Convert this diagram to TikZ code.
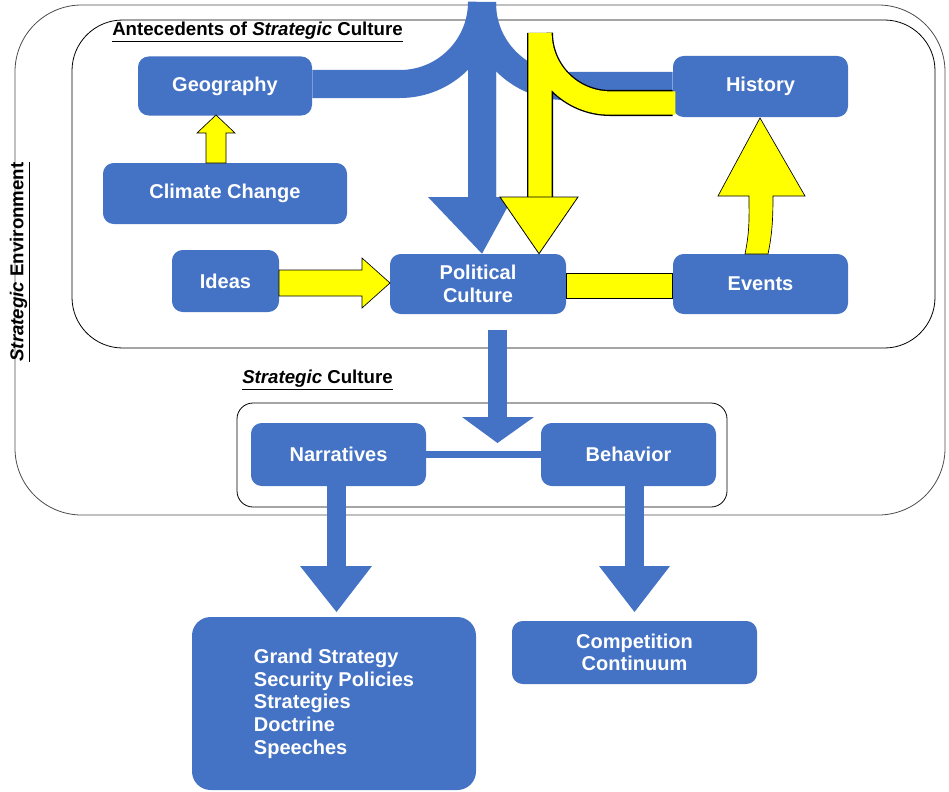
\documentclass[tikz,border=0pt]{standalone}
\usepackage{fontspec}
\setmainfont{Liberation Sans}
\begin{document}
\begin{tikzpicture}[x=0.75pt,y=-0.75pt,
  box/.style={fill=boxblue,rounded corners=8pt,text=white,font=\fontsize{15}{17}\selectfont\bfseries,align=center,inner sep=0pt},
  frame/.style={draw=black,line width=0.6pt},
  title/.style={font=\fontsize{14}{16}\selectfont\bfseries,inner sep=0pt}]
\definecolor{boxblue}{HTML}{4472C4}
\definecolor{yel}{HTML}{FFFF00}
\useasboundingbox (0,0) rectangle (949,792);
% frames
\draw[frame,draw=black!70,rounded corners=50pt] (15,5) rectangle (945,515);
\draw[frame,rounded corners=38pt] (72,20) rectangle (935,348);
\draw[frame,rounded corners=12pt] (237,403) rectangle (727,507);
% titles
\node[title,anchor=west] (t1) at (112,32) {\underline{Antecedents of \emph{Strategic} Culture}};
\node[title,anchor=west] (t2) at (242,380) {\underline{\emph{Strategic} Culture}};
\node[title,rotate=90] (t3) at (20,262) {\underline{\emph{Strategic} Environment}};
% boxes
\node[box,minimum width=174*0.75pt,minimum height=59*0.75pt] (geo) at (225,86) {Geography};
\node[box,minimum width=175*0.75pt,minimum height=61*0.75pt] (his) at (760.5,86.5) {History};
\node[box,minimum width=244*0.75pt,minimum height=61*0.75pt] (cli) at (225,193.5) {Climate Change};
\node[box,minimum width=107*0.75pt,minimum height=62*0.75pt] (ide) at (225.5,281) {Ideas};
\node[box,minimum width=176*0.75pt,minimum height=60*0.75pt] (pol) at (478,284) {Political\\Culture};
\node[box,minimum width=175*0.75pt,minimum height=60*0.75pt] (eve) at (760.5,284) {Events};
\node[box,minimum width=175*0.75pt,minimum height=63*0.75pt] (nar) at (338.5,454.5) {Narratives};
\node[box,minimum width=175*0.75pt,minimum height=63*0.75pt] (beh) at (628.5,454.5) {Behavior};
\node[box,minimum width=284*0.75pt,minimum height=173*0.75pt,rounded corners=14pt,align=left] (gra) at (334,703.5) {Grand Strategy\\Security Policies\\Strategies\\Doctrine\\Speeches};
\node[box,minimum width=245*0.75pt,minimum height=63*0.75pt] (com) at (634.5,652.5) {Competition\\Continuum};
% blue curved arrows into Political Culture
\draw[boxblue,line width=21pt] (geo.east|-0,84) -- (400,84) arc[start angle=90,end angle=0,radius=82] -- (482,199);
\draw[boxblue,line width=21pt] (his.west|-0,86) -- (565,86) arc[start angle=90,end angle=180,radius=83] -- (482,199);
\fill[boxblue] (428,197) -- (513,197) -- (pol.north-|482,0) -- cycle;
% yellow History -> Political Culture
\draw[black,line width=19.5pt] (his.west|-0,103) -- (610,103) arc[start angle=90,end angle=180,radius=70] -- (540,199);
\draw[yel,line width=17.5pt] ([xshift=2pt]his.west|-0,103) -- (610,103) arc[start angle=90,end angle=180,radius=70] -- (540,198);
\filldraw[fill=yel,draw=black,line width=0.6pt] (500,197) -- (578,197) -- (pol.north-|539,0) -- cycle;
% yellow Political -> Events
\draw[black,fill=yel,line width=0.5pt] (pol.east|-0,273) rectangle (eve.west|-0,298);
% yellow Events -> History
\filldraw[fill=yel,draw=black,line width=0.5pt] (745,254) .. controls (750,230) and (749,215) .. (749,196) -- (718,196) -- (760,118) -- (805,196) -- (773,196) .. controls (773,220) and (772,235) .. (768,254) -- cycle;
% yellow Climate -> Geography
\filldraw[fill=yel,draw=black,line width=0.5pt] (206,163) -- (206,133) -- (197,133) -- (216,115) -- (235,133) -- (226,133) -- (226,163) -- cycle;
% yellow Ideas -> Political
\filldraw[fill=yel,draw=black,line width=0.5pt] (279,270) -- (362,270) -- (362,258) -- (390,283) -- (362,308) -- (362,296) -- (279,296) -- cycle;
% Political -> Strategic Culture
\fill[boxblue] (488,330) rectangle (507,418);
\fill[boxblue] (462,417) -- (534,417) -- (497.5,443) -- cycle;
% Narratives - Behavior
\draw[boxblue,line width=5pt] (nar.east) -- (beh.west);
% down arrows
\fill[boxblue] (327,486) rectangle (346,567);
\fill[boxblue] (300,566) -- (372,566) -- (336.5,612) -- cycle;
\fill[boxblue] (625,486) rectangle (644,567);
\fill[boxblue] (599,566) -- (670,566) -- (634.5,612) -- cycle;
\end{tikzpicture}
\end{document}
